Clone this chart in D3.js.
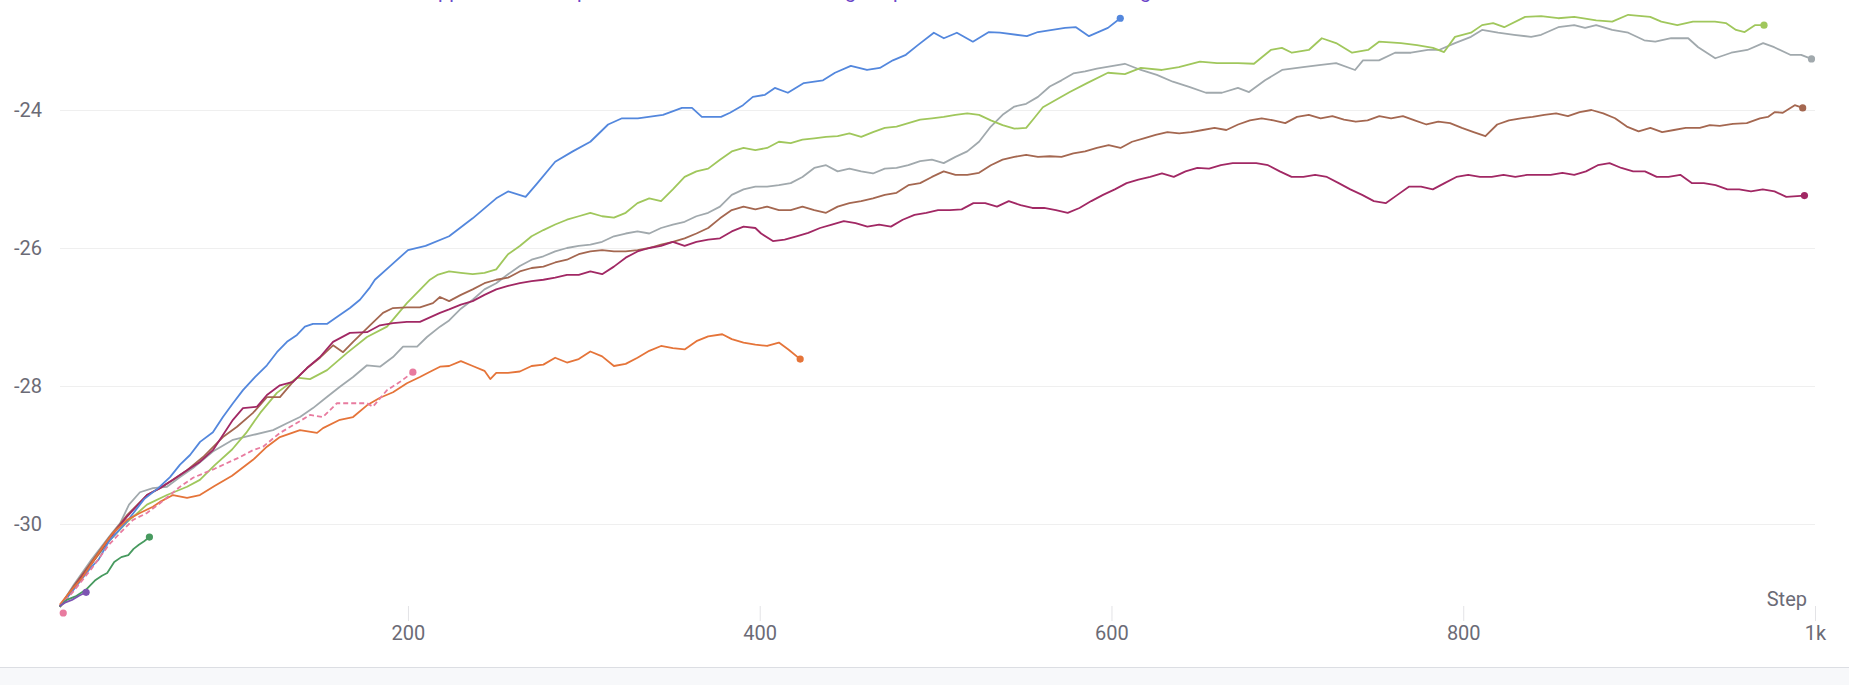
<!DOCTYPE html>
<html><head><meta charset="utf-8">
<script src="https://cdn.jsdelivr.net/npm/d3@7"></script>
<style>html,body{margin:0;padding:0;background:#fff;overflow:hidden}</style>
</head><body><svg id="c" width="1849" height="685"></svg>
<script>
const xTicks=[200,400,600,800,1000];
const yTicks=[-24,-26,-28,-30];
const xLabel="Step";

const blue=[[2,-31.2],[10,-30.95],[20,-30.62],[24,-30.52],[30,-30.25],[40,-29.97],[50,-29.64],[58,-29.48],[64.7,-29.32],[70.4,-29.14],[76.1,-29.0],[81.8,-28.81],[89.1,-28.67],[94.8,-28.45],[100.5,-28.25],[106.2,-28.06],[113,-27.87],[119.8,-27.70],[125.5,-27.51],[131.2,-27.36],[136.9,-27.26],[141.4,-27.14],[146,-27.10],[153.9,-27.10],[159.6,-27.0],[167,-26.87],[172.7,-26.75],[178.4,-26.57],[181.2,-26.46],[190,-26.26],[200,-26.03],[210,-25.97],[223.4,-25.83],[236.8,-25.57],[250.2,-25.28],[256.9,-25.18],[266.9,-25.26],[273.6,-25.06],[283.7,-24.75],[293.7,-24.60],[303.7,-24.46],[313.8,-24.21],[321.7,-24.12],[330.7,-24.12],[345,-24.07],[355.8,-23.97],[361.5,-23.97],[367.1,-24.10],[378,-24.10],[383.1,-24.04],[390.5,-23.93],[396.1,-23.81],[403,-23.78],[408.6,-23.68],[416,-23.75],[425.1,-23.61],[436,-23.57],[442.8,-23.46],[451.8,-23.36],[461,-23.42],[468.3,-23.39],[475.7,-23.28],[483.1,-23.20],[489.9,-23.06],[499,-22.88],[504.7,-22.96],[512.1,-22.88],[521.2,-23.01],[530.3,-22.87],[536.6,-22.88],[551.9,-22.93],[558.2,-22.87],[573.6,-22.81],[579.8,-22.80],[587.2,-22.93],[598,-22.81],[605,-22.67]];

const crimson=[[2,-31.2],[10,-30.92],[20,-30.58],[30,-30.22],[40,-29.9],[51.6,-29.58],[59,-29.48],[66.4,-29.36],[74.4,-29.22],[81.7,-29.10],[89.1,-28.93],[94.8,-28.71],[100.5,-28.49],[106.2,-28.32],[114.2,-28.30],[119.8,-28.13],[127.2,-27.99],[134.6,-27.94],[142.6,-27.74],[150,-27.58],[157.4,-27.36],[167,-27.23],[176.7,-27.22],[184.1,-27.12],[191.5,-27.09],[199.4,-27.07],[206.8,-27.07],[218.2,-26.94],[223.4,-26.89],[230.1,-26.82],[236.8,-26.77],[243.5,-26.68],[250.2,-26.60],[256.9,-26.55],[263.6,-26.51],[270.3,-26.48],[277,-26.46],[283.7,-26.43],[290.4,-26.39],[297.1,-26.39],[303.7,-26.34],[310.4,-26.38],[317.1,-26.27],[323.8,-26.14],[330.5,-26.05],[337.2,-26.00],[343.9,-25.97],[350.6,-25.91],[357.3,-25.97],[364,-25.91],[370.7,-25.88],[377.4,-25.86],[384.1,-25.76],[390.8,-25.69],[397.5,-25.71],[400.8,-25.79],[407.5,-25.90],[414.2,-25.88],[420.9,-25.83],[427.6,-25.78],[434.3,-25.71],[441,-25.66],[447.8,-25.61],[454.5,-25.64],[461.2,-25.69],[467.9,-25.66],[474.6,-25.69],[481.3,-25.59],[488,-25.52],[494.7,-25.49],[501.4,-25.45],[508.1,-25.45],[514.8,-25.44],[521.5,-25.35],[528.2,-25.35],[534.9,-25.40],[541.6,-25.32],[548.3,-25.38],[555,-25.42],[561.7,-25.42],[568.4,-25.45],[575.1,-25.49],[581.8,-25.42],[588.5,-25.32],[595.2,-25.23],[601.9,-25.15],[608.6,-25.06],[615.3,-25.01],[622,-24.97],[628.7,-24.92],[635.4,-24.97],[642.1,-24.89],[648.8,-24.84],[655.5,-24.85],[662.2,-24.80],[668.9,-24.77],[675.6,-24.77],[682.3,-24.77],[689,-24.80],[695.7,-24.89],[702.4,-24.97],[709.1,-24.97],[715.8,-24.94],[722.5,-24.97],[729.2,-25.06],[735.8,-25.15],[742.5,-25.23],[749.2,-25.32],[755.9,-25.35],[762.6,-25.23],[769.3,-25.11],[776,-25.11],[782.7,-25.15],[789.4,-25.06],[796.1,-24.97],[802.8,-24.94],[809.5,-24.97],[816.2,-24.97],[822.9,-24.94],[829.6,-24.97],[836.3,-24.94],[843,-24.94],[849.7,-24.94],[856.4,-24.91],[863.1,-24.94],[869.8,-24.89],[876.5,-24.80],[883.2,-24.77],[889.9,-24.84],[896.6,-24.89],[903.3,-24.89],[910,-24.97],[916.7,-24.97],[923.4,-24.94],[930.1,-25.06],[936.8,-25.06],[943.5,-25.09],[950.2,-25.15],[956.9,-25.15],[963.6,-25.18],[970.3,-25.15],[977,-25.18],[983.7,-25.26],[994,-25.24]];

const brown=[[2,-31.2],[10,-30.9],[20,-30.55],[30,-30.2],[40,-29.88],[51.6,-29.58],[59,-29.48],[66.4,-29.36],[74.4,-29.22],[83.5,-29.03],[94.8,-28.74],[102.8,-28.59],[111.9,-28.39],[119.8,-28.16],[127.2,-28.16],[134.6,-27.94],[142.6,-27.74],[150,-27.59],[157.4,-27.41],[163.1,-27.51],[168.8,-27.36],[178.4,-27.12],[185.8,-26.94],[191.5,-26.87],[199.4,-26.86],[206.8,-26.86],[214.2,-26.80],[218.2,-26.71],[223.4,-26.77],[230.1,-26.68],[236.8,-26.60],[243.5,-26.51],[250.2,-26.46],[256.9,-26.43],[263.6,-26.34],[270.3,-26.29],[277,-26.27],[283.7,-26.21],[290.4,-26.17],[297.1,-26.09],[303.7,-26.05],[310.4,-26.03],[317.1,-26.05],[323.8,-26.05],[330.5,-26.03],[337.2,-26.00],[343.9,-25.95],[350.6,-25.91],[357.3,-25.86],[364,-25.79],[370.7,-25.71],[377.4,-25.57],[384.1,-25.45],[390.8,-25.40],[397.5,-25.44],[404.2,-25.40],[410.9,-25.45],[417.6,-25.45],[424.3,-25.40],[431,-25.45],[437.7,-25.49],[444.3,-25.40],[451,-25.35],[457.7,-25.32],[464.4,-25.28],[471.1,-25.23],[477.8,-25.20],[484.5,-25.09],[491.2,-25.06],[497.9,-24.97],[504.6,-24.89],[511.3,-24.94],[518,-24.94],[524.7,-24.91],[531.4,-24.80],[538.1,-24.72],[544.8,-24.68],[551.5,-24.65],[558.2,-24.68],[564.9,-24.67],[571.6,-24.68],[578.3,-24.63],[585,-24.60],[591.7,-24.55],[598.4,-24.51],[605.1,-24.55],[611.7,-24.46],[618.4,-24.41],[625.1,-24.36],[631.8,-24.32],[638.5,-24.34],[645.2,-24.32],[651.9,-24.29],[658.6,-24.26],[665.3,-24.29],[672,-24.21],[678.7,-24.15],[685.4,-24.12],[692.1,-24.15],[698.8,-24.19],[705.5,-24.10],[712.2,-24.07],[718.9,-24.12],[725.6,-24.09],[732.2,-24.14],[738.9,-24.17],[745.6,-24.15],[752.3,-24.09],[759,-24.12],[765.7,-24.09],[772.4,-24.15],[779.1,-24.21],[785.8,-24.17],[792.5,-24.19],[799.2,-24.26],[805.9,-24.32],[812.6,-24.38],[819.3,-24.21],[826,-24.15],[832.7,-24.12],[839.4,-24.10],[846.1,-24.07],[852.8,-24.05],[859.5,-24.09],[866.2,-24.03],[872.9,-24.00],[879.6,-24.05],[886.3,-24.12],[893,-24.24],[899.7,-24.31],[906.4,-24.26],[913.1,-24.32],[919.8,-24.29],[926.5,-24.26],[934.5,-24.26],[940.2,-24.22],[945.9,-24.23],[953.3,-24.20],[961.2,-24.19],[968.7,-24.12],[973.2,-24.10],[977.2,-24.03],[981.7,-24.04],[988.5,-23.93],[993,-23.97]];

const gray=[[2,-31.2],[10,-30.88],[20,-30.52],[31.7,-30.13],[36.3,-29.99],[41.4,-29.72],[47.6,-29.54],[55,-29.48],[63,-29.46],[70.4,-29.32],[77.8,-29.19],[89.1,-28.95],[100.5,-28.78],[111.9,-28.71],[123.3,-28.64],[131.2,-28.54],[138.6,-28.45],[146,-28.32],[153.9,-28.16],[161.3,-28.01],[168.8,-27.87],[176.7,-27.70],[184.1,-27.72],[191.5,-27.58],[197.2,-27.43],[205.2,-27.43],[210.8,-27.29],[218.2,-27.14],[223.4,-27.05],[230.1,-26.88],[236.8,-26.75],[243.5,-26.60],[250.2,-26.51],[256.9,-26.38],[263.6,-26.26],[270.3,-26.17],[277,-26.12],[283.7,-26.05],[290.4,-26.00],[297.1,-25.97],[303.7,-25.95],[310.4,-25.91],[317.1,-25.83],[323.8,-25.79],[330.5,-25.76],[337.2,-25.79],[343.9,-25.71],[350.6,-25.66],[357.3,-25.62],[364,-25.54],[370.7,-25.49],[377.4,-25.40],[384.1,-25.23],[390.8,-25.15],[397.5,-25.11],[404.2,-25.11],[410.9,-25.09],[417.6,-25.06],[424.3,-24.97],[431,-24.84],[437.7,-24.80],[444.3,-24.89],[451,-24.85],[457.7,-24.89],[464.4,-24.92],[471.1,-24.85],[477.8,-24.84],[484.5,-24.80],[491.2,-24.74],[497.9,-24.72],[504.6,-24.77],[511.3,-24.68],[518,-24.60],[524.7,-24.46],[531.4,-24.24],[538.1,-24.07],[544.8,-23.95],[551.5,-23.91],[558.2,-23.81],[564.9,-23.66],[571.6,-23.57],[578.3,-23.47],[585,-23.44],[591.7,-23.40],[598.4,-23.37],[607.6,-23.33],[616.7,-23.42],[625.8,-23.49],[634.9,-23.59],[644.6,-23.67],[653.7,-23.75],[662.8,-23.75],[671.9,-23.68],[678.2,-23.74],[687.3,-23.57],[697,-23.42],[708.9,-23.38],[718,-23.35],[727.7,-23.32],[738.5,-23.42],[743,-23.28],[752.1,-23.28],[761.2,-23.17],[770.3,-23.17],[779.9,-23.13],[786.2,-23.13],[795.3,-23.03],[804.4,-22.94],[810.7,-22.84],[819.8,-22.88],[828.9,-22.91],[838.6,-22.94],[844.3,-22.91],[854,-22.80],[863.1,-22.77],[869.3,-22.81],[875.6,-22.77],[884.7,-22.84],[893.8,-22.88],[902.9,-22.99],[909.2,-23.01],[918.2,-22.96],[927.9,-22.96],[933.6,-23.09],[943.3,-23.25],[952.4,-23.17],[961.5,-23.13],[970.5,-23.03],[976.8,-23.09],[985.9,-23.20],[992.1,-23.20],[998,-23.26]];

const lightGreen=[[2,-31.2],[10,-30.92],[20,-30.58],[30,-30.25],[40,-29.98],[51.6,-29.72],[63,-29.58],[74.4,-29.46],[81.7,-29.36],[90,-29.15],[100,-28.92],[108,-28.68],[116,-28.39],[125.5,-28.10],[136.9,-27.88],[144.3,-27.90],[154,-27.77],[165.4,-27.52],[176.7,-27.29],[188.1,-27.14],[199.4,-26.80],[212.5,-26.46],[216.7,-26.39],[223.4,-26.34],[230.1,-26.36],[236.8,-26.38],[243.5,-26.36],[250.2,-26.31],[256.9,-26.09],[263.6,-25.97],[270.3,-25.83],[277,-25.74],[283.7,-25.66],[290.4,-25.59],[297.1,-25.54],[303.7,-25.49],[310.4,-25.54],[317.1,-25.56],[323.8,-25.49],[330.5,-25.35],[337.2,-25.28],[343.9,-25.32],[350.6,-25.15],[357.3,-24.97],[364,-24.89],[370.7,-24.85],[377.4,-24.72],[384.1,-24.60],[390.8,-24.55],[397.5,-24.58],[404.2,-24.55],[410.9,-24.46],[417.6,-24.48],[424.3,-24.43],[431,-24.41],[437.7,-24.39],[444.3,-24.38],[451,-24.34],[457.7,-24.39],[464.4,-24.32],[471.1,-24.26],[477.8,-24.24],[484.5,-24.19],[491.2,-24.14],[497.9,-24.12],[504.6,-24.10],[511.3,-24.07],[518,-24.05],[524.7,-24.07],[531.4,-24.15],[538.1,-24.22],[544.8,-24.27],[551.5,-24.26],[556,-24.12],[561,-23.96],[576.3,-23.74],[586.1,-23.61],[598,-23.46],[607.6,-23.48],[616.7,-23.39],[628.7,-23.42],[638.3,-23.38],[650.3,-23.30],[660,-23.32],[671.9,-23.32],[681,-23.33],[690.6,-23.13],[696.9,-23.10],[702.6,-23.17],[712.2,-23.13],[719.6,-22.96],[727.7,-23.03],[736.8,-23.17],[745.9,-23.13],[752.1,-23.01],[764.6,-23.03],[773.7,-23.06],[782.8,-23.10],[789.1,-23.16],[795.3,-22.94],[804.4,-22.88],[810.7,-22.77],[817,-22.74],[823.3,-22.80],[835.2,-22.65],[844.3,-22.64],[854,-22.67],[863.1,-22.65],[875.6,-22.70],[884.7,-22.72],[893.8,-22.62],[906.3,-22.65],[912.6,-22.72],[921.7,-22.77],[930.6,-22.72],[943.1,-22.72],[949.3,-22.74],[955.1,-22.84],[960,-22.87],[965.8,-22.77],[971,-22.77]];

const orange=[[2,-31.17],[8,-30.98],[14.7,-30.78],[20,-30.58],[26,-30.35],[32.3,-30.13],[40.3,-29.94],[47.6,-29.84],[55,-29.75],[59,-29.68],[66.4,-29.58],[74.4,-29.62],[81.7,-29.58],[90,-29.45],[100,-29.3],[111.9,-29.07],[119.8,-28.88],[127.2,-28.74],[138.6,-28.64],[148.3,-28.68],[151.7,-28.61],[161.3,-28.49],[168.8,-28.45],[176.7,-28.28],[184.1,-28.17],[191.5,-28.09],[199.4,-27.96],[206.8,-27.87],[212,-27.80],[218.2,-27.72],[223.4,-27.71],[230.1,-27.64],[236.8,-27.71],[243.5,-27.78],[246.8,-27.90],[250.2,-27.81],[256.9,-27.81],[263.6,-27.79],[270.3,-27.71],[277,-27.69],[283.7,-27.59],[290.4,-27.66],[297.1,-27.61],[303.7,-27.50],[310.4,-27.57],[317.1,-27.71],[323.8,-27.68],[330.5,-27.59],[337.2,-27.49],[343.9,-27.42],[350.6,-27.45],[357.3,-27.47],[364,-27.35],[370.7,-27.28],[378.7,-27.25],[384.1,-27.32],[390.8,-27.37],[397.5,-27.40],[404.2,-27.42],[410.9,-27.37],[416.3,-27.47],[423,-27.61]];

const pinkDashed=[[2,-31.2],[10,-30.97],[20,-30.65],[30,-30.3],[36.3,-30.13],[43.7,-29.94],[51.6,-29.84],[59,-29.70],[70.4,-29.46],[77.8,-29.33],[90,-29.2],[104.5,-29.03],[111.9,-28.93],[117.6,-28.88],[127.2,-28.68],[134.6,-28.57],[144.3,-28.42],[151.7,-28.45],[159.6,-28.25],[171,-28.25],[176.7,-28.25],[180.1,-28.30],[188.1,-28.06],[195.5,-27.94],[202.8,-27.80]];

const darkGreen=[[2,-31.2],[6,-31.1],[11,-31.05],[17,-30.95],[22,-30.82],[26,-30.75],[29,-30.71],[33,-30.55],[37,-30.48],[41,-30.45],[44,-30.36],[47,-30.30],[50,-30.25],[53,-30.19]];

const purple=[[2,-31.19],[5,-31.14],[9,-31.10],[13,-31.04],[17,-30.99]];

const pinkPoint=[[4,-31.29]];

const series=[
  {data:gray,color:"#A1A9AD"},
  {data:lightGreen,color:"#A0C75C"},
  {data:brown,color:"#A46750"},
  {data:crimson,color:"#A12864"},
  {data:blue,color:"#5387DD"},
  {data:orange,color:"#E57439"},
  {data:pinkDashed,color:"#E87B9F",dash:"5,3"},
  {data:darkGreen,color:"#479A5F"},
  {data:purple,color:"#7D54B2"},
  {data:pinkPoint,color:"#E87B9F"}
];

const svg=d3.select("#c");
const W=1849,H=685;
const x=d3.scaleLinear().domain([0,1000]).range([56.2,1815]);
const y=d3.scaleLinear().domain([-24,-30]).range([110,524]);
const font="Roboto, 'Noto Sans', sans-serif";

// bottom band
svg.append("rect").attr("x",0).attr("y",667).attr("width",W).attr("height",H-667).attr("fill","#f7f8fa");
svg.append("line").attr("x1",0).attr("x2",W).attr("y1",667.5).attr("y2",667.5).attr("stroke","#dcdee3").attr("stroke-width",1);

// top clipped purple text (only descenders visible)
const tt=svg.append("text").attr("y",-2).attr("font-family",font).attr("font-size",20).attr("fill","#6c47c9");
[["pp",438],["p",577],["g",845],["p",893],["g",1140]].forEach(([s,px])=>tt.append("tspan").attr("x",px).text(s));

// grid + y axis
const yAxis=d3.axisLeft(y).tickValues(yTicks).tickSize(-(1815-60)).tickPadding(18).tickFormat(d=>d);
const gy=svg.append("g").attr("transform","translate(60,0)").call(yAxis);
gy.select(".domain").remove();
gy.selectAll(".tick line").attr("stroke","#efefef").attr("stroke-width",1);
gy.selectAll(".tick text").attr("font-family",font).attr("font-size",20).attr("fill","#6b6b76");

// x axis
const xAxis=d3.axisBottom(x).tickValues(xTicks).tickSize(15).tickPadding(5).tickFormat(d=>d===1000?"1k":d);
const gx=svg.append("g").attr("transform","translate(0,606)").call(xAxis);
gx.select(".domain").remove();
gx.selectAll(".tick line").attr("stroke","#e3e3e6");
gx.selectAll(".tick text").attr("font-family",font).attr("font-size",20).attr("fill","#6b6b76");

svg.append("text").attr("x",1807).attr("y",606).attr("text-anchor","end").attr("font-family",font).attr("font-size",20).attr("fill","#6b6b76").text(xLabel);

const line=d3.line().x(d=>x(d[0])).y(d=>y(d[1]));
series.forEach(s=>{
  if(s.data.length>1){
    svg.append("path").datum(s.data).attr("d",line).attr("fill","none").attr("stroke",s.color)
      .attr("stroke-width",1.8).attr("stroke-linejoin","round").attr("stroke-dasharray",s.dash||null);
  }
  const last=s.data[s.data.length-1];
  svg.append("circle").attr("cx",x(last[0])).attr("cy",y(last[1])).attr("r",3.6).attr("fill",s.color);
});
</script></body></html>
